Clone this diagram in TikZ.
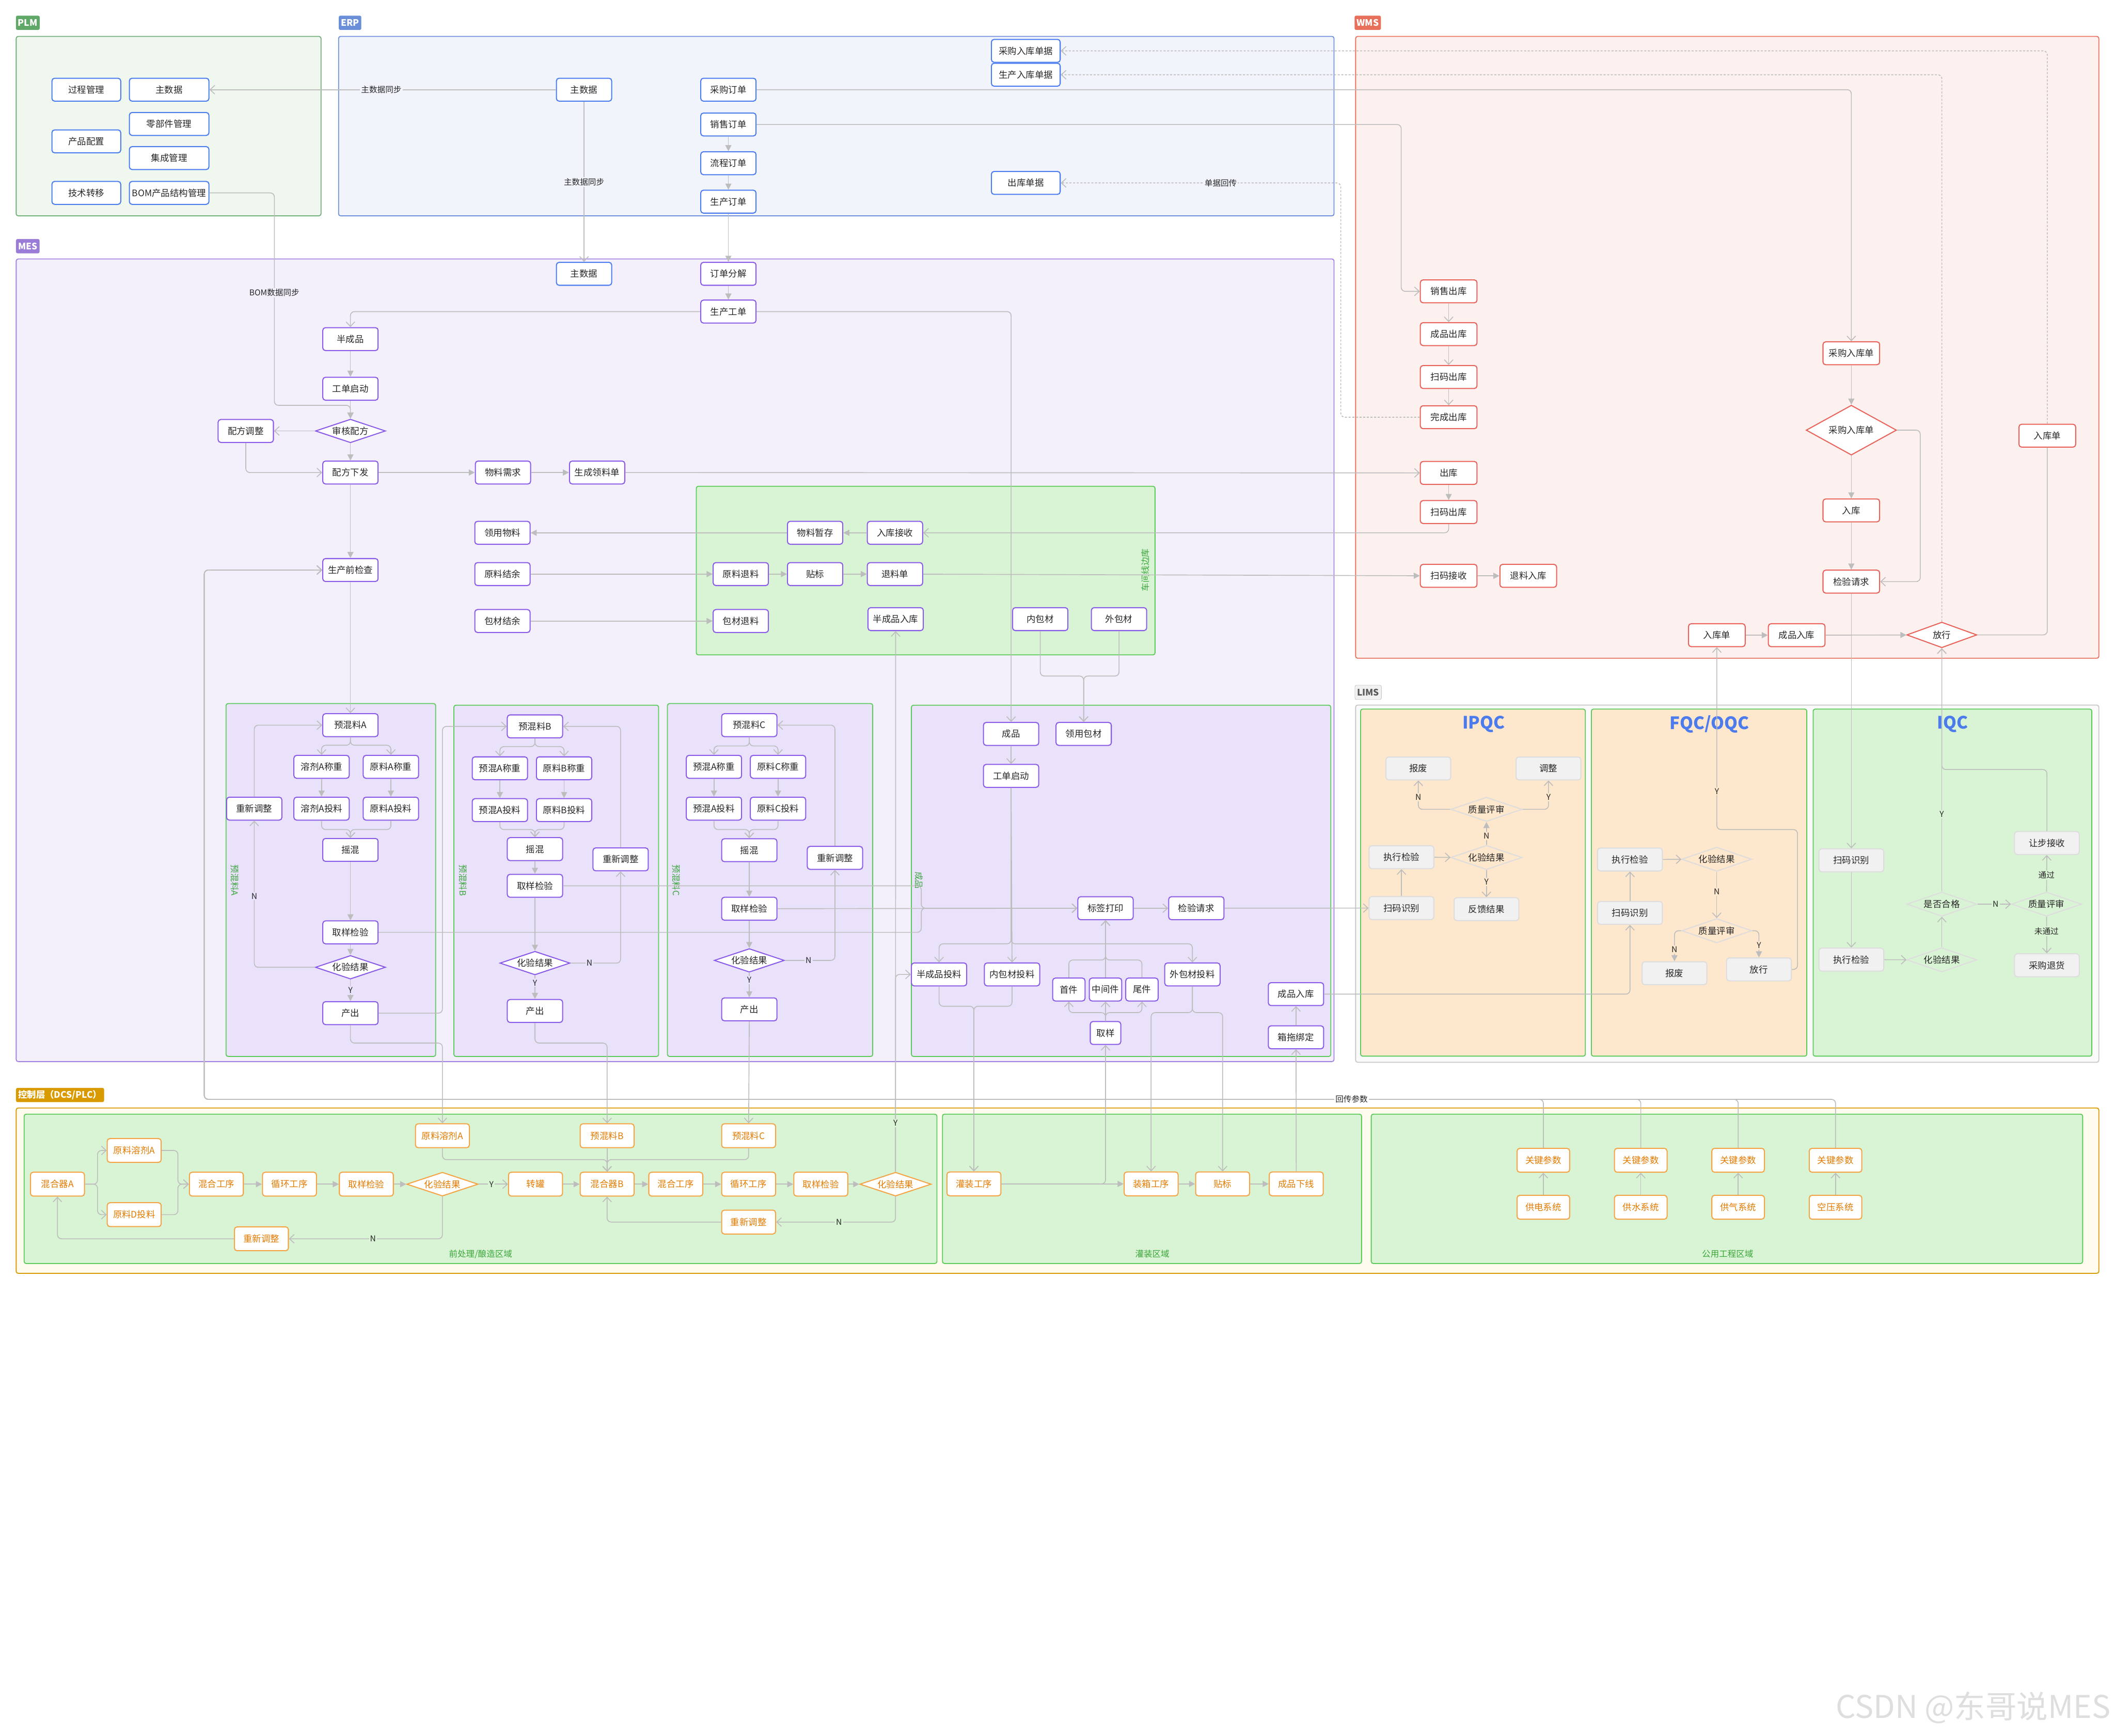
\documentclass[tikz,border=0pt]{standalone}
\usepackage{fontspec}
\setmainfont{Noto Sans CJK SC}
\usetikzlibrary{arrows.meta,shapes.geometric}
\definecolor{edgegray}{HTML}{BDBDBD}
\definecolor{plmtag}{HTML}{5FA868}
\definecolor{plmline}{HTML}{72B07A}
\definecolor{plmfill}{HTML}{EFF7EF}
\definecolor{erptag}{HTML}{6A8ED8}
\definecolor{erpline}{HTML}{6F8FDC}
\definecolor{erpfill}{HTML}{F2F4FC}
\definecolor{wmstag}{HTML}{E8705A}
\definecolor{wmsline}{HTML}{E8735F}
\definecolor{wmsfill}{HTML}{FDF1EF}
\definecolor{mestag}{HTML}{9B7BD8}
\definecolor{mesline}{HTML}{A283E0}
\definecolor{mesfill}{HTML}{F3F0FC}
\definecolor{limsline}{HTML}{C8C8C8}
\definecolor{limsfill}{HTML}{FAFAFA}
\definecolor{ctrltag}{HTML}{D99A00}
\definecolor{ctrlfill}{HTML}{FFFCEF}
\definecolor{subline}{HTML}{5CCB5C}
\definecolor{lavender}{HTML}{EAE2FB}
\definecolor{mint}{HTML}{D9F4D4}
\definecolor{peach}{HTML}{FDE7CD}
\definecolor{nodeblue}{HTML}{4A7CF0}
\definecolor{nodepurple}{HTML}{8A5BE8}
\definecolor{nodered}{HTML}{E8625A}
\definecolor{nodegray}{HTML}{DDDDDD}
\definecolor{nodegrayfill}{HTML}{F1F1F1}
\definecolor{ctrlnode}{HTML}{F5A445}
\definecolor{ctrltext}{HTML}{E27B00}
\definecolor{titleblue}{HTML}{4B7BEC}
\definecolor{areatext}{HTML}{3AA53A}
\definecolor{inktext}{HTML}{262626}
\begin{document}
\begin{tikzpicture}[x=1mm, y=-1mm,
    every node/.style={text=inktext},
    box/.style={draw, fill=white, rounded corners=2mm, line width=2.2pt, minimum width=41mm, minimum height=17mm, inner sep=0pt, font=\fontsize{19}{21}\selectfont},
    plm/.style={box, draw=nodeblue},
    mes/.style={box, draw=nodepurple},
    wms/.style={box, draw=nodered, minimum width=42mm},
    lims/.style={box, draw=nodegray, fill=nodegrayfill, minimum width=48mm},
    ctrl/.style={box, draw=ctrlnode, text=ctrltext, minimum width=40mm, minimum height=17.7mm},
    dia/.style={draw, shape=diamond, fill=white, line width=2.2pt, aspect=3, inner sep=0pt, minimum width=52mm, minimum height=17.5mm, font=\fontsize{19}{21}\selectfont},
    mesdia/.style={dia, draw=nodepurple},
    wmsdia/.style={dia, draw=nodered},
    limsdia/.style={dia, draw=nodegray, fill=none, minimum width=53mm, minimum height=18mm},
    ctrldia/.style={dia, draw=ctrlnode, text=ctrltext, minimum width=53mm, minimum height=17.7mm},
    area/.style={draw=#1, line width=2pt, rounded corners=1.5mm},
    tag/.style={fill=#1, text=white, rounded corners=1.2mm, inner xsep=1.6mm, inner ysep=0pt, minimum height=10.6mm, font=\fontsize{19}{21}\selectfont\bfseries},
    lbl/.style={inner sep=0.8mm, font=\fontsize{17}{19}\selectfont},
    zone/.style={text=areatext, font=\fontsize{18}{20}\selectfont},
    qc/.style={text=titleblue, font=\fontsize{36}{40}\selectfont\bfseries},
    conn/.style={draw=edgegray, line width=1.8pt, rounded corners=3mm},
    conno/.style={conn, -{Straight Barb[length=3.5mm, width=6.5mm]}},
    connf/.style={conn, -{Triangle[length=4.5mm, width=4.5mm]}},
    connd/.style={conno, dash pattern=on 1.5mm off 1.2mm}
]
\fill[white] (0,0) rectangle (1568,1287);
\useasboundingbox (0,0) rectangle (1568,1287);

\draw[area=plmline, fill=plmfill] (12,27) rectangle (238,160);
\draw[area=erpline, fill=erpfill] (251,27) rectangle (989,160);
\draw[area=wmsline, fill=wmsfill] (1005,27) rectangle (1556,488);
\draw[area=mesline, fill=mesfill] (12,192) rectangle (989,787);
\draw[area=limsline, fill=limsfill] (1005,522.7) rectangle (1556,787.5);
\draw[area=ctrltag, fill=ctrlfill] (12,821.4) rectangle (1556,944);
\draw[area=subline, fill=mint] (516.2,360.5) rectangle (856.3,485.5);
\draw[area=subline, fill=lavender] (167.6,521.6) rectangle (323,783.2);
\draw[area=subline, fill=lavender] (336.5,522.8) rectangle (488.3,783.2);
\draw[area=subline, fill=lavender] (494.8,521.6) rectangle (647,783.2);
\draw[area=subline, fill=lavender] (675.7,522.8) rectangle (986.6,783.2);
\draw[area=subline, fill=peach] (1008.7,525.7) rectangle (1175.3,783);
\draw[area=subline, fill=peach] (1179.8,525.7) rectangle (1339.5,783);
\draw[area=subline, fill=mint] (1344.2,525.7) rectangle (1550.8,783);
\draw[area=subline, fill=mint] (17.9,826) rectangle (694.6,936.7);
\draw[area=subline, fill=mint] (698.7,826) rectangle (1009.4,936.7);
\draw[area=subline, fill=mint] (1016.6,826) rectangle (1544,936.7);

\node[tag=plmtag] (tagPlm) at (20.6,16.9) {PLM};
\node[tag=erptag] (tagErp) at (259.5,16.9) {ERP};
\node[tag=wmstag] (tagWms) at (1014,16.9) {WMS};
\node[tag=mestag] (tagMes) at (20.6,182.5) {MES};
\node[tag=nodegrayfill, draw=limsline, line width=1pt, text=black!65] (tagLims) at (1014.3,513.3) {LIMS};
\node[tag=ctrltag] (tagCtrl) at (44.5,811.8) {控制层（DCS/PLC）};

\node[zone, rotate=90] (zoneLine) at (849,422.6) {车间线边库};
\node[zone, rotate=-90] (zoneA) at (174,652.6) {预混料A};
\node[zone, rotate=-90] (zoneB) at (343.3,652.6) {预混料B};
\node[zone, rotate=-90] (zoneC) at (501.4,652.6) {预混料C};
\node[zone, rotate=-90] (zoneFg) at (681.2,652.6) {成品};
\node[zone] (zonePre) at (356.3,929.7) {前处理/酿造区域};
\node[zone] (zoneFill) at (854.3,929.7) {灌装区域};
\node[zone] (zonePub) at (1280.8,929.7) {公用工程区域};
\node[qc] (ttlIpqc) at (1100,537) {IPQC};
\node[qc] (ttlFqc) at (1267.3,537) {FQC/OQC};
\node[qc] (ttlIqc) at (1447.6,537) {IQC};

\node[plm, minimum width=51mm] (plmProc) at (64,66.5) {过程管理};
\node[plm, minimum width=59mm] (plmData) at (125.4,66.5) {主数据};
\node[plm, minimum width=59mm] (plmParts) at (125.4,91.9) {零部件管理};
\node[plm, minimum width=51mm] (plmConf) at (64,104.8) {产品配置};
\node[plm, minimum width=59mm] (plmInteg) at (125.4,117.2) {集成管理};
\node[plm, minimum width=51mm] (plmTech) at (64,143) {技术转移};
\node[plm, minimum width=59mm] (plmBom) at (125.4,143) {BOM产品结构管理};

\node[plm] (erpData) at (433,66.5) {主数据};
\node[plm] (erpPur) at (540,66.5) {采购订单};
\node[plm] (erpSale) at (540,92.3) {销售订单};
\node[plm] (erpFlow) at (540,121) {流程订单};
\node[plm] (erpProd) at (540,149.5) {生产订单};
\node[plm, minimum width=51mm] (erpPurIn) at (760.5,37.7) {采购入库单据};
\node[plm, minimum width=51mm] (erpProdIn) at (760.5,55.4) {生产入库单据};
\node[plm, minimum width=51mm] (erpOut) at (760.5,135.6) {出库单据};

\node[plm] (mesData) at (433,203) {主数据};
\node[mes] (mesSplit) at (540,203) {订单分解};
\node[mes] (mesWo) at (540,231) {生产工单};
\node[mes] (mesSemi) at (259.8,251.4) {半成品};
\node[mes] (mesStart) at (259.8,288.2) {工单启动};
\node[mesdia] (mesAudit) at (259.8,319.5) {审核配方};
\node[mes] (mesAdj) at (182.2,319.5) {配方调整};
\node[mes] (mesIssue) at (259.8,350.3) {配方下发};
\node[mes] (mesNeed) at (372.9,350.3) {物料需求};
\node[mes] (mesPick) at (442.7,350.3) {生成领料单};
\node[mes] (mesUse) at (372.5,395) {领用物料};
\node[mes] (mesRaw) at (372.5,425.6) {原料结余};
\node[mes] (mesPack) at (372.5,460.4) {包材结余};
\node[mes] (mesCheck) at (259.8,422.6) {生产前检查};
\node[mes] (lineStore) at (604.3,395) {物料暂存};
\node[mes] (lineRecv) at (663.5,395) {入库接收};
\node[mes] (lineRawRet) at (549.2,425.6) {原料退料};
\node[mes] (lineLabel) at (604.3,425.6) {贴标};
\node[mes] (lineRetNote) at (663.5,425.6) {退料单};
\node[mes] (linePackRet) at (549.2,460.4) {包材退料};
\node[mes] (lineSemiIn) at (664,459) {半成品入库};
\node[mes] (lineInner) at (771.2,459) {内包材};
\node[mes] (lineOuter) at (829.6,459) {外包材};

\node[mes] (aMix) at (259.8,537.6) {预混料A};
\node[mes] (aW1) at (238.4,568.5) {溶剂A称重};
\node[mes] (aW2) at (289.8,568.5) {原料A称重};
\node[mes] (aF1) at (238.4,599.5) {溶剂A投料};
\node[mes] (aF2) at (289.8,599.5) {原料A投料};
\node[mes] (aAdj) at (188.5,599.5) {重新调整};
\node[mes] (aShake) at (259.8,630.1) {摇混};
\node[mes] (aSample) at (259.8,691.2) {取样检验};
\node[mesdia] (aTest) at (259.8,717.1) {化验结果};
\node[mes] (aOut) at (259.8,751.1) {产出};

\node[mes] (bMix) at (396.6,538.5) {预混料B};
\node[mes] (bW1) at (370.6,569.6) {预混A称重};
\node[mes] (bW2) at (418.2,569.6) {原料B称重};
\node[mes] (bF1) at (370.6,600.6) {预混A投料};
\node[mes] (bF2) at (418.2,600.6) {原料B投料};
\node[mes] (bShake) at (396.6,629.5) {摇混};
\node[mes] (bSample) at (396.6,656.7) {取样检验};
\node[mesdia] (bTest) at (396.6,714) {化验结果};
\node[mes] (bOut) at (396.6,749.5) {产出};
\node[mes] (bAdj) at (460.1,637.1) {重新调整};

\node[mes] (cMix) at (555.5,537.6) {预混料C};
\node[mes] (cW1) at (529.3,568.5) {预混A称重};
\node[mes] (cW2) at (576.8,568.5) {原料C称重};
\node[mes] (cF1) at (529.3,599.5) {预混A投料};
\node[mes] (cF2) at (576.8,599.5) {原料C投料};
\node[mes] (cShake) at (555.5,630.3) {摇混};
\node[mes] (cSample) at (555.5,673.7) {取样检验};
\node[mesdia] (cTest) at (555.5,712) {化验结果};
\node[mes] (cOut) at (555.5,748.3) {产出};
\node[mes] (cAdj) at (619,636) {重新调整};

\node[mes] (fgProd) at (749.6,544.1) {成品};
\node[mes] (fgPack) at (803.4,544.1) {领用包材};
\node[mes] (fgStart) at (749.6,575.2) {工单启动};
\node[mes] (fgPrint) at (819.6,673.3) {标签打印};
\node[mes] (fgReq) at (886.9,673.3) {检验请求};
\node[mes] (fgSemi) at (696.2,722.4) {半成品投料};
\node[mes] (fgInner) at (750.3,722.4) {内包材投料};
\node[mes, minimum width=24mm] (fgFirst) at (792.4,733.6) {首件};
\node[mes, minimum width=24mm] (fgMid) at (819.6,733.6) {中间件};
\node[mes, minimum width=24mm] (fgLast) at (846.6,733.6) {尾件};
\node[mes] (fgOuter) at (884,722.4) {外包材投料};
\node[mes, minimum width=22.6mm] (fgSample) at (819.6,765.8) {取样};
\node[mes] (fgIn) at (960.8,737) {成品入库};
\node[mes] (fgBind) at (960.8,769) {箱拖绑定};

\node[wms] (wSale) at (1074,216) {销售出库};
\node[wms] (wFg) at (1074,247.7) {成品出库};
\node[wms] (wScan1) at (1074,279.5) {扫码出库};
\node[wms] (wDone) at (1074,309.3) {完成出库};
\node[wms] (wOut) at (1074,350.6) {出库};
\node[wms] (wScan2) at (1074,379.6) {扫码出库};
\node[wms] (wRecv) at (1074,426.9) {扫码接收};
\node[wms] (wRet) at (1133,426.9) {退料入库};
\node[wms] (wPurNote) at (1372.5,261.9) {采购入库单};
\node[wmsdia, aspect=1.8, minimum width=67mm, minimum height=37mm] (wPurDia) at (1372.5,318.9) {采购入库单};
\node[wms] (wIn) at (1372.5,378.4) {入库};
\node[wms] (wReq) at (1372.5,431.2) {检验请求};
\node[wms] (wInNoteR) at (1517.8,323) {入库单};
\node[wms] (wInNoteB) at (1272.8,470.9) {入库单};
\node[wms] (wFgIn) at (1332,470.9) {成品入库};
\node[wmsdia, minimum height=19mm] (wRel) at (1439.6,470.7) {放行};

\node[lims] (ipScrap) at (1051.5,569.7) {报废};
\node[lims] (ipAdj) at (1148,569.7) {调整};
\node[limsdia] (ipReview) at (1102,600) {质量评审};
\node[limsdia] (ipTest) at (1102,635.7) {化验结果};
\node[lims] (ipExec) at (1039,635.5) {执行检验};
\node[lims] (ipScan) at (1039,673.2) {扫码识别};
\node[lims] (ipFeed) at (1102,674) {反馈结果};

\node[lims] (fqExec) at (1208.4,637.2) {执行检验};
\node[limsdia, minimum width=52mm] (fqTest) at (1272.7,637) {化验结果};
\node[lims] (fqScan) at (1208.4,676.8) {扫码识别};
\node[limsdia, minimum width=52mm] (fqReview) at (1272.7,690) {质量评审};
\node[lims] (fqScrap) at (1241.4,721.5) {报废};
\node[lims] (fqRel) at (1304,718.7) {放行};

\node[lims] (iqScan) at (1372.5,637.8) {扫码识别};
\node[lims] (iqExec) at (1372.5,711.4) {执行检验};
\node[limsdia, minimum width=52mm] (iqTest) at (1439.6,711.6) {化验结果};
\node[limsdia, minimum width=52mm] (iqOk) at (1439.6,670.3) {是否合格};
\node[limsdia, minimum width=52mm] (iqReview) at (1517.2,670.3) {质量评审};
\node[lims] (iqAccept) at (1517.5,625) {让步接收};
\node[lims] (iqReturn) at (1517.5,715.6) {采购退货};

\node[ctrl] (kMixA) at (42.6,877.9) {混合器A};
\node[ctrl] (kSolA) at (99.5,852.9) {原料溶剂A};
\node[ctrl] (kRawD) at (99.5,900.5) {原料D投料};
\foreach \x/\nm/\txt in {160.4/kMix1/混合工序, 214.6/kLoop1/循环工序, 271.6/kSamp1/取样检验, 397/kTrans/转罐, 450.1/kMixB/混合器B, 501/kMix2/混合工序, 555/kLoop2/循环工序, 608.5/kSamp2/取样检验}
    \node[ctrl] (\nm) at (\x,877.9) {\txt};
\node[ctrldia] (kTest1) at (328,877.9) {化验结果};
\node[ctrldia] (kTest2) at (663.9,877.9) {化验结果};
\node[ctrl] (kAdj1) at (193.8,918.4) {重新调整};
\node[ctrl] (kAdj2) at (555,906) {重新调整};
\node[ctrl] (kInA) at (328,842) {原料溶剂A};
\node[ctrl] (kInB) at (450.1,842) {预混料B};
\node[ctrl] (kInC) at (555,842) {预混料C};
\node[ctrl] (kFill) at (722,877.7) {灌装工序};
\node[ctrl] (kBox) at (853.4,877.7) {装箱工序};
\node[ctrl] (kLbl) at (906.4,877.7) {贴标};
\node[ctrl] (kOff) at (961,877.7) {成品下线};
\foreach \i/\x/\txt in {1/1144.2/供电系统, 2/1216.4/供水系统, 3/1288.6/供气系统, 4/1360.8/空压系统} {
    \node[ctrl, minimum width=39mm] (kPar\i) at (\x,860.2) {关键参数};
    \node[ctrl, minimum width=39mm] (kSys\i) at (\x,895) {\txt};
}

\draw[conno] (erpData) -- (plmData);
\draw[conno] (erpData) -- (mesData);
\draw[connf] (erpSale) -- (erpFlow);
\draw[connf] (erpFlow) -- (erpProd);
\draw[connf] (erpProd) -- (mesSplit);
\draw[connf] (mesSplit) -- (mesWo);
\draw[conno] (erpPur) -| (wPurNote);
\draw[conno] (erpSale) -| (1038.8,216) -- (wSale);
\draw[connd] (wDone) -| (994,135.6) -- (erpOut);
\draw[connd] (wInNoteR) |- (erpPurIn);
\draw[connd] (wRel) |- (erpProdIn);
\draw[conno] (mesWo) -| (mesSemi);
\draw[conno] (mesWo) -| (fgProd);
\draw[connf] (mesSemi) -- (mesStart);
\draw[connf] (mesStart) -- (mesAudit);
\draw[connf] (plmBom) -| (203.4,300.5) -| (mesAudit);
\draw[conno] (mesAudit) -- (mesAdj);
\draw[connf] (mesAudit) -- (mesIssue);
\draw[conno] (mesAdj.south) |- (mesIssue.west);
\draw[connf] (mesIssue) -- (mesNeed);
\draw[connf] (mesNeed) -- (mesPick);
\draw[conno] (mesPick) -- (wOut);
\draw[connf] (mesIssue) -- (mesCheck);
\draw[conno] (wScan2.south) |- (lineRecv.east);
\draw[connf] (lineRecv) -- (lineStore);
\draw[connf] (lineStore) -- (mesUse);
\draw[connf] (mesRaw) -- (lineRawRet);
\draw[connf] (lineRawRet) -- (lineLabel);
\draw[connf] (lineLabel) -- (lineRetNote);
\draw[connf] (lineRetNote) -- (wRecv);
\draw[connf] (wRecv) -- (wRet);
\draw[connf] (mesPack) -- (linePackRet);
\draw[conno] (lineInner.south) |- (803.4,501.2) -- (fgPack.north);
\draw[conno] (lineOuter.south) |- (803.4,501.2) -- (fgPack.north);

\draw[conno] (mesCheck) -- (aMix);
\draw[conno] (aMix.south) -- (259.8,552.5) -| (aW1.north);
\draw[conno] (aMix.south) -- (259.8,552.5) -| (aW2.north);
\draw[connf] (aW1) -- (aF1);
\draw[connf] (aW2) -- (aF2);
\draw[conno] (aF1.south) -- (238.4,615) -| (aShake.north);
\draw[conno] (aF2.south) -- (289.8,615) -| (aShake.north);
\draw[connf] (aShake) -- (aSample);
\draw[connf] (aSample) -- (aTest);
\draw[connf] (aTest) -- (aOut);
\draw[conno] (aTest.west) -| (aAdj.south);
\draw[conno] (aAdj.north) |- (aMix.west);
\draw[conno] (aOut.east) -| (328,538.5) -- (bMix.west);
\draw[conno] (aOut.south) -- (259.8,773.3) -| (kInA.north);

\draw[conno] (bMix.south) -- (396.6,553.5) -| (bW1.north);
\draw[conno] (bMix.south) -- (396.6,553.5) -| (bW2.north);
\draw[connf] (bW1) -- (bF1);
\draw[connf] (bW2) -- (bF2);
\draw[conno] (bF1.south) -- (370.6,615) -| (bShake.north);
\draw[conno] (bF2.south) -- (418.2,615) -| (bShake.north);
\draw[connf] (bShake) -- (bSample);
\draw[connf] (bSample) -- (bTest);
\draw[connf] (bTest) -- (bOut);
\draw[conno] (bTest.east) -| (bAdj.south);
\draw[conno] (bAdj.north) |- (bMix.east);
\draw[conno] (bOut.south) -- (396.6,773.3) -| (kInB.north);

\draw[conno] (cMix.south) -- (555.5,553) -| (cW1.north);
\draw[conno] (cMix.south) -- (555.5,553) -| (cW2.north);
\draw[connf] (cW1) -- (cF1);
\draw[connf] (cW2) -- (cF2);
\draw[conno] (cF1.south) -- (529.3,615) -| (cShake.north);
\draw[conno] (cF2.south) -- (576.8,615) -| (cShake.north);
\draw[connf] (cShake) -- (cSample);
\draw[connf] (cSample) -- (cTest);
\draw[connf] (cTest) -- (cOut);
\draw[conno] (cTest.east) -| (cAdj.south);
\draw[conno] (cAdj.north) |- (cMix.east);
\draw[conno] (cOut.south) -- (kInC.north);

\draw[conno] (aSample.east) -- (683,691.2) |- (fgPrint.west);
\draw[conno] (bSample.east) -- (683,656.7) |- (fgPrint.west);
\draw[conno] (cSample) -- (fgPrint);
\draw[conno] (fgProd) -- (fgStart);
\draw[conno] (fgStart.south) -- (749.6,699.7) -| (fgSemi.north);
\draw[conno] (fgStart.south) -- (fgInner.north);
\draw[conno] (fgStart.south) -- (749.6,699.7) -| (fgOuter.north);
\draw[conno] (fgFirst.north) -- (792.4,711.7) -| (fgPrint.south);
\draw[conno] (fgMid) -- (fgPrint);
\draw[conno] (fgLast.north) -- (846.6,711.7) -| (fgPrint.south);
\draw[conno] (fgSample.north) -- (819.6,750.7) -| (fgFirst.south);
\draw[conno] (fgSample) -- (fgMid);
\draw[conno] (fgSample.north) -- (819.6,750.7) -| (fgLast.south);
\draw[conno] (fgPrint) -- (fgReq);
\draw[conno] (fgReq) -- (ipScan);
\draw[conno] (fgBind) -- (fgIn);
\draw[conno] (fgIn) -| (fqScan);
\draw[conno] (kTest2.north) -- (lineSemiIn.south);
\draw[conno] (kTest2.north) |- (fgSemi.west);
\draw[conno] (fgSemi.south) |- (722,746) -- (kFill.north);
\draw[conno] (fgInner.south) |- (722,746) -- (kFill.north);
\draw[conno] (fgOuter.south) |- (853.4,750.7) -- (kBox.north);
\draw[conno] (fgOuter.south) |- (906.4,750.7) -- (kLbl.north);
\draw[conno] (kFill) -| (fgSample);
\draw[connf] (kFill) -- (kBox);
\draw[connf] (kBox) -- (kLbl);
\draw[connf] (kLbl) -- (kOff);
\draw[conno] (kOff) -- (fgBind);

\draw[conno] (wSale) -- (wFg);
\draw[conno] (wFg) -- (wScan1);
\draw[conno] (wScan1) -- (wDone);
\draw[connf] (wOut) -- (wScan2);
\draw[connf] (wPurNote) -- (wPurDia);
\draw[connf] (wPurDia) -- (wIn);
\draw[connf] (wIn) -- (wReq);
\draw[conno] (wPurDia.east) -- (1423.6,318.9) |- (wReq.east);
\draw[conno] (wReq) -- (iqScan);
\draw[connf] (wInNoteB) -- (wFgIn);
\draw[connf] (wFgIn) -- (wRel);
\draw[conn] (wRel) -| (wInNoteR);
\draw[conno] (fqRel.east) -| (1332.6,615) -| (wInNoteB.south);
\draw[conno] (iqOk) -- (wRel);
\draw[conno] (iqAccept.north) |- (1439.6,570.5) -- (wRel.south);

\draw[conno] (ipScan) -- (ipExec);
\draw[conno] (ipExec) -- (ipTest);
\draw[conno] (ipTest) -- (ipFeed);
\draw[connf] (ipTest) -- (ipReview);
\draw[conno] (ipReview.west) -| (ipScrap.south);
\draw[conno] (ipReview.east) -| (ipAdj.south);
\draw[conno] (fqScan) -- (fqExec);
\draw[conno] (fqExec) -- (fqTest);
\draw[conno] (fqTest) -- (fqReview);
\draw[connf] (fqReview.west) -| (fqScrap.north);
\draw[connf] (fqReview.east) -| (fqRel.north);
\draw[conno] (iqScan) -- (iqExec);
\draw[conno] (iqExec) -- (iqTest);
\draw[conno] (iqTest) -- (iqOk);
\draw[conno] (iqOk) -- (iqReview);
\draw[conno] (iqReview) -- (iqAccept);
\draw[conno] (iqReview) -- (iqReturn);

\draw[conno] (kMixA.east) -| (72.3,852.9) -- (kSolA.west);
\draw[conno] (kMixA.east) -| (72.3,900.5) -- (kRawD.west);
\draw[conno] (kSolA.east) -| (131.9,877.9) -- (kMix1.west);
\draw[conno] (kRawD.east) -| (131.9,877.9) -- (kMix1.west);
\draw[connf] (kMix1) -- (kLoop1);
\draw[connf] (kLoop1) -- (kSamp1);
\draw[connf] (kSamp1) -- (kTest1);
\draw[conno] (kTest1) -- (kTrans);
\draw[connf] (kTrans) -- (kMixB);
\draw[connf] (kMixB) -- (kMix2);
\draw[connf] (kMix2) -- (kLoop2);
\draw[connf] (kLoop2) -- (kSamp2);
\draw[connf] (kSamp2) -- (kTest2);
\draw[conno] (kTest1.south) |- (kAdj1.east);
\draw[conno] (kAdj1.west) -| (kMixA.south);
\draw[conno] (kTest2.south) |- (kAdj2.east);
\draw[conno] (kAdj2.west) -| (kMixB.south);
\draw[conno] (kInA.south) |- (450.1,859.7) -- (kMixB.north);
\draw[conno] (kInB) -- (kMixB);
\draw[conno] (kInC.south) |- (450.1,859.7) -- (kMixB.north);
\foreach \i in {1,...,4} {
    \draw[conno] (kSys\i) -- (kPar\i);
    \draw[conno] (kPar\i.north) |- (151.4,815) |- (mesCheck.west);
}

\node[lbl, fill=erpfill] (lblSync1) at (282.7,66.5) {主数据同步};
\node[lbl, fill=erpfill] (lblSync2) at (433,135) {主数据同步};
\node[lbl, fill=erpfill] (lblBack) at (905,135.6) {单据回传};
\node[lbl, fill=mesfill] (lblBom) at (203.4,217) {BOM数据同步};
\node[lbl, fill=white] (lblPar) at (1002,815) {回传参数};
\node[lbl, fill=lavender] (lblAy) at (259.8,734.1) {Y};
\node[lbl, fill=lavender] (lblAn) at (188.5,664.4) {N};
\node[lbl, fill=lavender] (lblBy) at (396.6,728.6) {Y};
\node[lbl, fill=lavender] (lblBn) at (437,714) {N};
\node[lbl, fill=lavender] (lblCy) at (555.5,726.6) {Y};
\node[lbl, fill=lavender] (lblCn) at (599.4,712) {N};
\node[lbl, fill=peach] (lblIp1) at (1051.5,591) {N};
\node[lbl, fill=peach] (lblIp2) at (1148,591) {Y};
\node[lbl, fill=peach] (lblIp3) at (1102,619.8) {N};
\node[lbl, fill=peach] (lblIp4) at (1102,653.9) {Y};
\node[lbl, fill=peach] (lblFq1) at (1272.8,586.6) {Y};
\node[lbl, fill=peach] (lblFq2) at (1272.7,661) {N};
\node[lbl, fill=peach] (lblFq3) at (1241.4,704) {N};
\node[lbl, fill=peach] (lblFq4) at (1304,701) {Y};
\node[lbl, fill=mint] (lblIq1) at (1439.6,603.6) {Y};
\node[lbl, fill=mint] (lblIq2) at (1479.5,670.3) {N};
\node[lbl, fill=mint] (lblIq3) at (1517.2,648.8) {通过};
\node[lbl, fill=mint] (lblIq4) at (1517.2,690.4) {未通过};
\node[lbl, fill=mint] (lblK1) at (364.3,877.9) {Y};
\node[lbl, fill=mint] (lblK2) at (276.5,918.4) {N};
\node[lbl, fill=mint] (lblK3) at (663.9,832.7) {Y};
\node[lbl, fill=mint] (lblK4) at (622,906) {N};

\node[text=black!13, font=\fontsize{66}{70}\selectfont, anchor=east] (mark) at (1566,1266) {CSDN @东哥说MES};
\end{tikzpicture}
\end{document}
